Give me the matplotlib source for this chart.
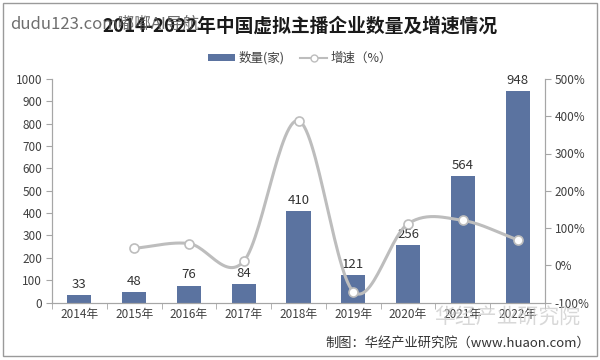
import numpy as np
import matplotlib
matplotlib.use("Agg")
import matplotlib.pyplot as plt
from matplotlib.patches import Rectangle
from matplotlib.lines import Line2D
from matplotlib.patches import Patch

plt.rcParams['font.family'] = ['Noto Sans CJK SC', 'DejaVu Sans']

years = ["2014年", "2015年", "2016年", "2017年", "2018年", "2019年", "2020年", "2021年", "2022年"]
counts = [33, 48, 76, 84, 410, 121, 256, 564, 948]
growth_years = ["2015年", "2016年", "2017年", "2018年", "2019年", "2020年", "2021年", "2022年"]
growth = [45.5, 58.3, 10.5, 388.1, -70.5, 111.6, 120.3, 68.1]

bar_color = "#5B73A0"
line_color = "#BDBDBD"
axis_color = "#A6A6A6"
text_color = "#404040"

fig = plt.figure(figsize=(6, 3.6), dpi=100)
ax = fig.add_axes([52/600, 1-302.5/360, (545-52)/600, (302.5-79)/360])
ax2 = ax.twinx()

x = np.arange(len(years))
bars = ax.bar(x, counts, width=0.44, color=bar_color, zorder=2)
for xi, v in zip(x, counts):
    ax.text(xi, v + 18, str(v), ha='center', va='bottom', fontsize=9.5, color="#333333")

ax.set_xlim(-0.5, len(years) - 0.5)
ax.set_ylim(0, 1000)
ax.set_yticks(range(0, 1001, 100))
ax.set_xticks(x)
ax.set_xticklabels(years, fontsize=8.5, color=text_color)
ax.set_xticks(np.arange(-0.5, len(years), 1), minor=True)
ax.tick_params(axis='x', which='major', length=0, pad=4)
ax.tick_params(axis='x', which='minor', length=4, color=axis_color)
ax.tick_params(axis='y', labelsize=8.5, labelcolor=text_color, length=4, color=axis_color, pad=3)

# smoothed growth line (Catmull-Rom through the data points)
gx = np.array([years.index(g) for g in growth_years], dtype=float)
gy = np.array(growth, dtype=float)
px = np.concatenate([[2*gx[0]-gx[1]], gx, [2*gx[-1]-gx[-2]]])
py = np.concatenate([[2*gy[0]-gy[1]], gy, [2*gy[-1]-gy[-2]]])
sx, sy = [], []
t = np.linspace(0, 1, 30)
for i in range(1, len(px) - 2):
    p0, p1, p2, p3 = (np.array([px[j], py[j]]) for j in (i-1, i, i+1, i+2))
    tension = 0.5
    m1 = tension * (p2 - p0)
    m2 = tension * (p3 - p1)
    h00 = 2*t**3 - 3*t**2 + 1
    h10 = t**3 - 2*t**2 + t
    h01 = -2*t**3 + 3*t**2
    h11 = t**3 - t**2
    pts = (np.outer(h00, p1) + np.outer(h10, m1) + np.outer(h01, p2) + np.outer(h11, m2))
    sx.extend(pts[:, 0]); sy.extend(pts[:, 1])
ax2.plot(sx, sy, color=line_color, lw=2.2, zorder=3, solid_capstyle='round')
ax2.plot(gx, gy, linestyle='none', marker='o', ms=6.5, mfc='white', mec=line_color, mew=1.2, zorder=4)
ax2.set_ylim(-100, 500)
ax2.set_yticks(range(-100, 501, 100))
ax2.set_yticklabels([f"{v}%" for v in range(-100, 501, 100)])
ax2.tick_params(axis='y', labelsize=8.5, labelcolor=text_color, length=4, color=axis_color, pad=3)

for a in (ax, ax2):
    for s in ('top',):
        a.spines[s].set_visible(False)
    a.spines['left'].set_color(axis_color)
    a.spines['right'].set_color(axis_color)
    a.spines['bottom'].set_color(axis_color)
ax.set_zorder(ax2.get_zorder() - 1)
ax2.patch.set_visible(False)

# title and watermark
fig.text(0.5, 1-26/360, "2014-2022年中国虚拟主播企业数量及增速情况", ha='center', va='center',
         fontsize=13.5, fontweight='bold', color="#1a1a1a")
fig.text(10/600, 1-24/360, "dudu123.com嘟嘟AI导航", ha='left', va='center',
         fontsize=12, color="#555555", alpha=0.85)

handles = [Patch(facecolor=bar_color, edgecolor='none'),
           Line2D([0], [0], color=line_color, lw=1.5, marker='o', ms=5, mfc='white', mec=line_color)]
fig.legend(handles, ["数量(家)", "增速（%）"], loc='center', bbox_to_anchor=(0.5, 1-58/360),
           ncol=2, frameon=False, fontsize=9, handlelength=2.2, handleheight=0.5,
           columnspacing=1.2, handletextpad=0.3, labelcolor=text_color)

fig.text(580/600, 1-318/360, "华经产业研究院", ha='right', va='center', fontsize=15,
         color="#c8c8c8", alpha=0.7)
fig.text(590/600, 1-343/360, "制图：华经产业研究院（www.huaon.com）", ha='right', va='center',
         fontsize=9.5, color="#333333")

fig.patches.append(Rectangle((3/600, 4/360), 594/600, 353/360, transform=fig.transFigure,
                             fill=False, edgecolor="#9a9a9a", lw=1.0))

fig.savefig("out.png", dpi=100)
